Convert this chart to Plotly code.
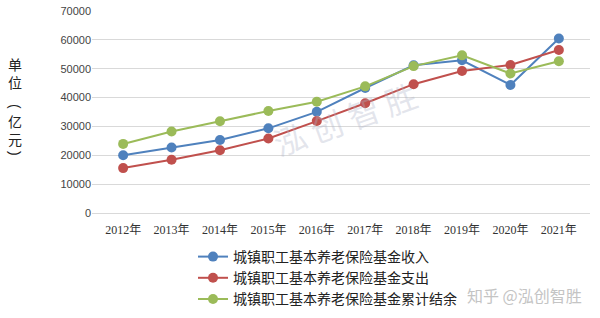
import plotly.graph_objects as go

years = ["2012年", "2013年", "2014年", "2015年", "2016年", "2017年", "2018年", "2019年", "2020年", "2021年"]
income = [20001, 22680, 25310, 29341, 35058, 43310, 51168, 52919, 44376, 60455]
expense = [15562, 18470, 21755, 25813, 31854, 38052, 44645, 49228, 51301, 56481]
balance = [23941, 28269, 31800, 35345, 38580, 43885, 50901, 54623, 48317, 52574]
names = ["城镇职工基本养老保险基金收入", "城镇职工基本养老保险基金支出", "城镇职工基本养老保险基金累计结余"]
y_ticks = [0, 10000, 20000, 30000, 40000, 50000, 60000, 70000]
y_tick_text = [str(v) for v in y_ticks]

colors = ["#4F81BD", "#C0504D", "#9BBB59"]

fig = go.Figure()
for vals, name, c in zip([income, expense, balance], names, colors):
    fig.add_trace(go.Scatter(
        x=years, y=vals, name=name, mode="lines+markers",
        line=dict(color=c, width=2),
        marker=dict(color=c, size=10),
    ))

L, T, H, W = 92, 11, 202, 498

def px(xp):
    return (xp - L) / W

def py(yp):
    return (T + H - yp) / H

annotations = []
ytitle = [("单<br>位", 73, 0, "Noto Sans CJK SC"),
          ("(", 106, 90, "Liberation Sans"),
          ("亿<br>元", 130, 0, "Noto Sans CJK SC"),
          (")", 153, 90, "Liberation Sans")]
for ch, ypix, ang, fam in ytitle:
    annotations.append(dict(
        text=ch, xref="paper", yref="paper", x=px(15), y=py(ypix),
        showarrow=False, xanchor="center", yanchor="middle", textangle=ang,
        borderpad=0,
        font=dict(family=fam, size=14, color="#222")))

annotations.append(dict(
    text="知乎 @泓创智胜", xref="paper", yref="paper",
    x=px(584), y=py(295), showarrow=False, xanchor="right", yanchor="middle",
    font=dict(family="Noto Sans CJK SC", size=16, color="#C4C4C4")))
annotations.append(dict(
    text="泓 创 智 胜", xref="paper", yref="paper",
    x=px(345), y=py(118), showarrow=False, textangle=-20,
    xanchor="center", yanchor="middle",
    font=dict(family="Noto Sans CJK SC", size=32, color="rgba(175,180,200,0.35)")))

fig.update_layout(
    width=600, height=318,
    margin=dict(l=L, r=600 - L - W, t=T, b=318 - T - H, autoexpand=False),
    paper_bgcolor="white", plot_bgcolor="white",
    showlegend=True,
    legend=dict(
        x=px(193), y=py(241), xanchor="left", yanchor="top",
        font=dict(family="Noto Sans CJK SC", size=14, color="#222"),
        bgcolor="rgba(0,0,0,0)",
    ),
    xaxis=dict(
        showgrid=False, showline=False, zeroline=False, automargin=False,
        tickfont=dict(family="Liberation Serif, Noto Sans CJK SC", size=12, color="#333"),
        ticks="", ticklabelstandoff=8,
    ),
    yaxis=dict(
        range=[0, 70000], tickvals=y_ticks, ticktext=y_tick_text,
        showgrid=True, gridcolor="#D9D9D9", gridwidth=1,
        zeroline=True, zerolinecolor="#D9D9D9", zerolinewidth=1,
        showline=False, automargin=False,
        tickfont=dict(family="Liberation Sans", size=11, color="#444"),
        ticks="", ticklen=0,
        ticksuffix="   ",
    ),
    annotations=annotations,
)

fig.write_html("out.html")
